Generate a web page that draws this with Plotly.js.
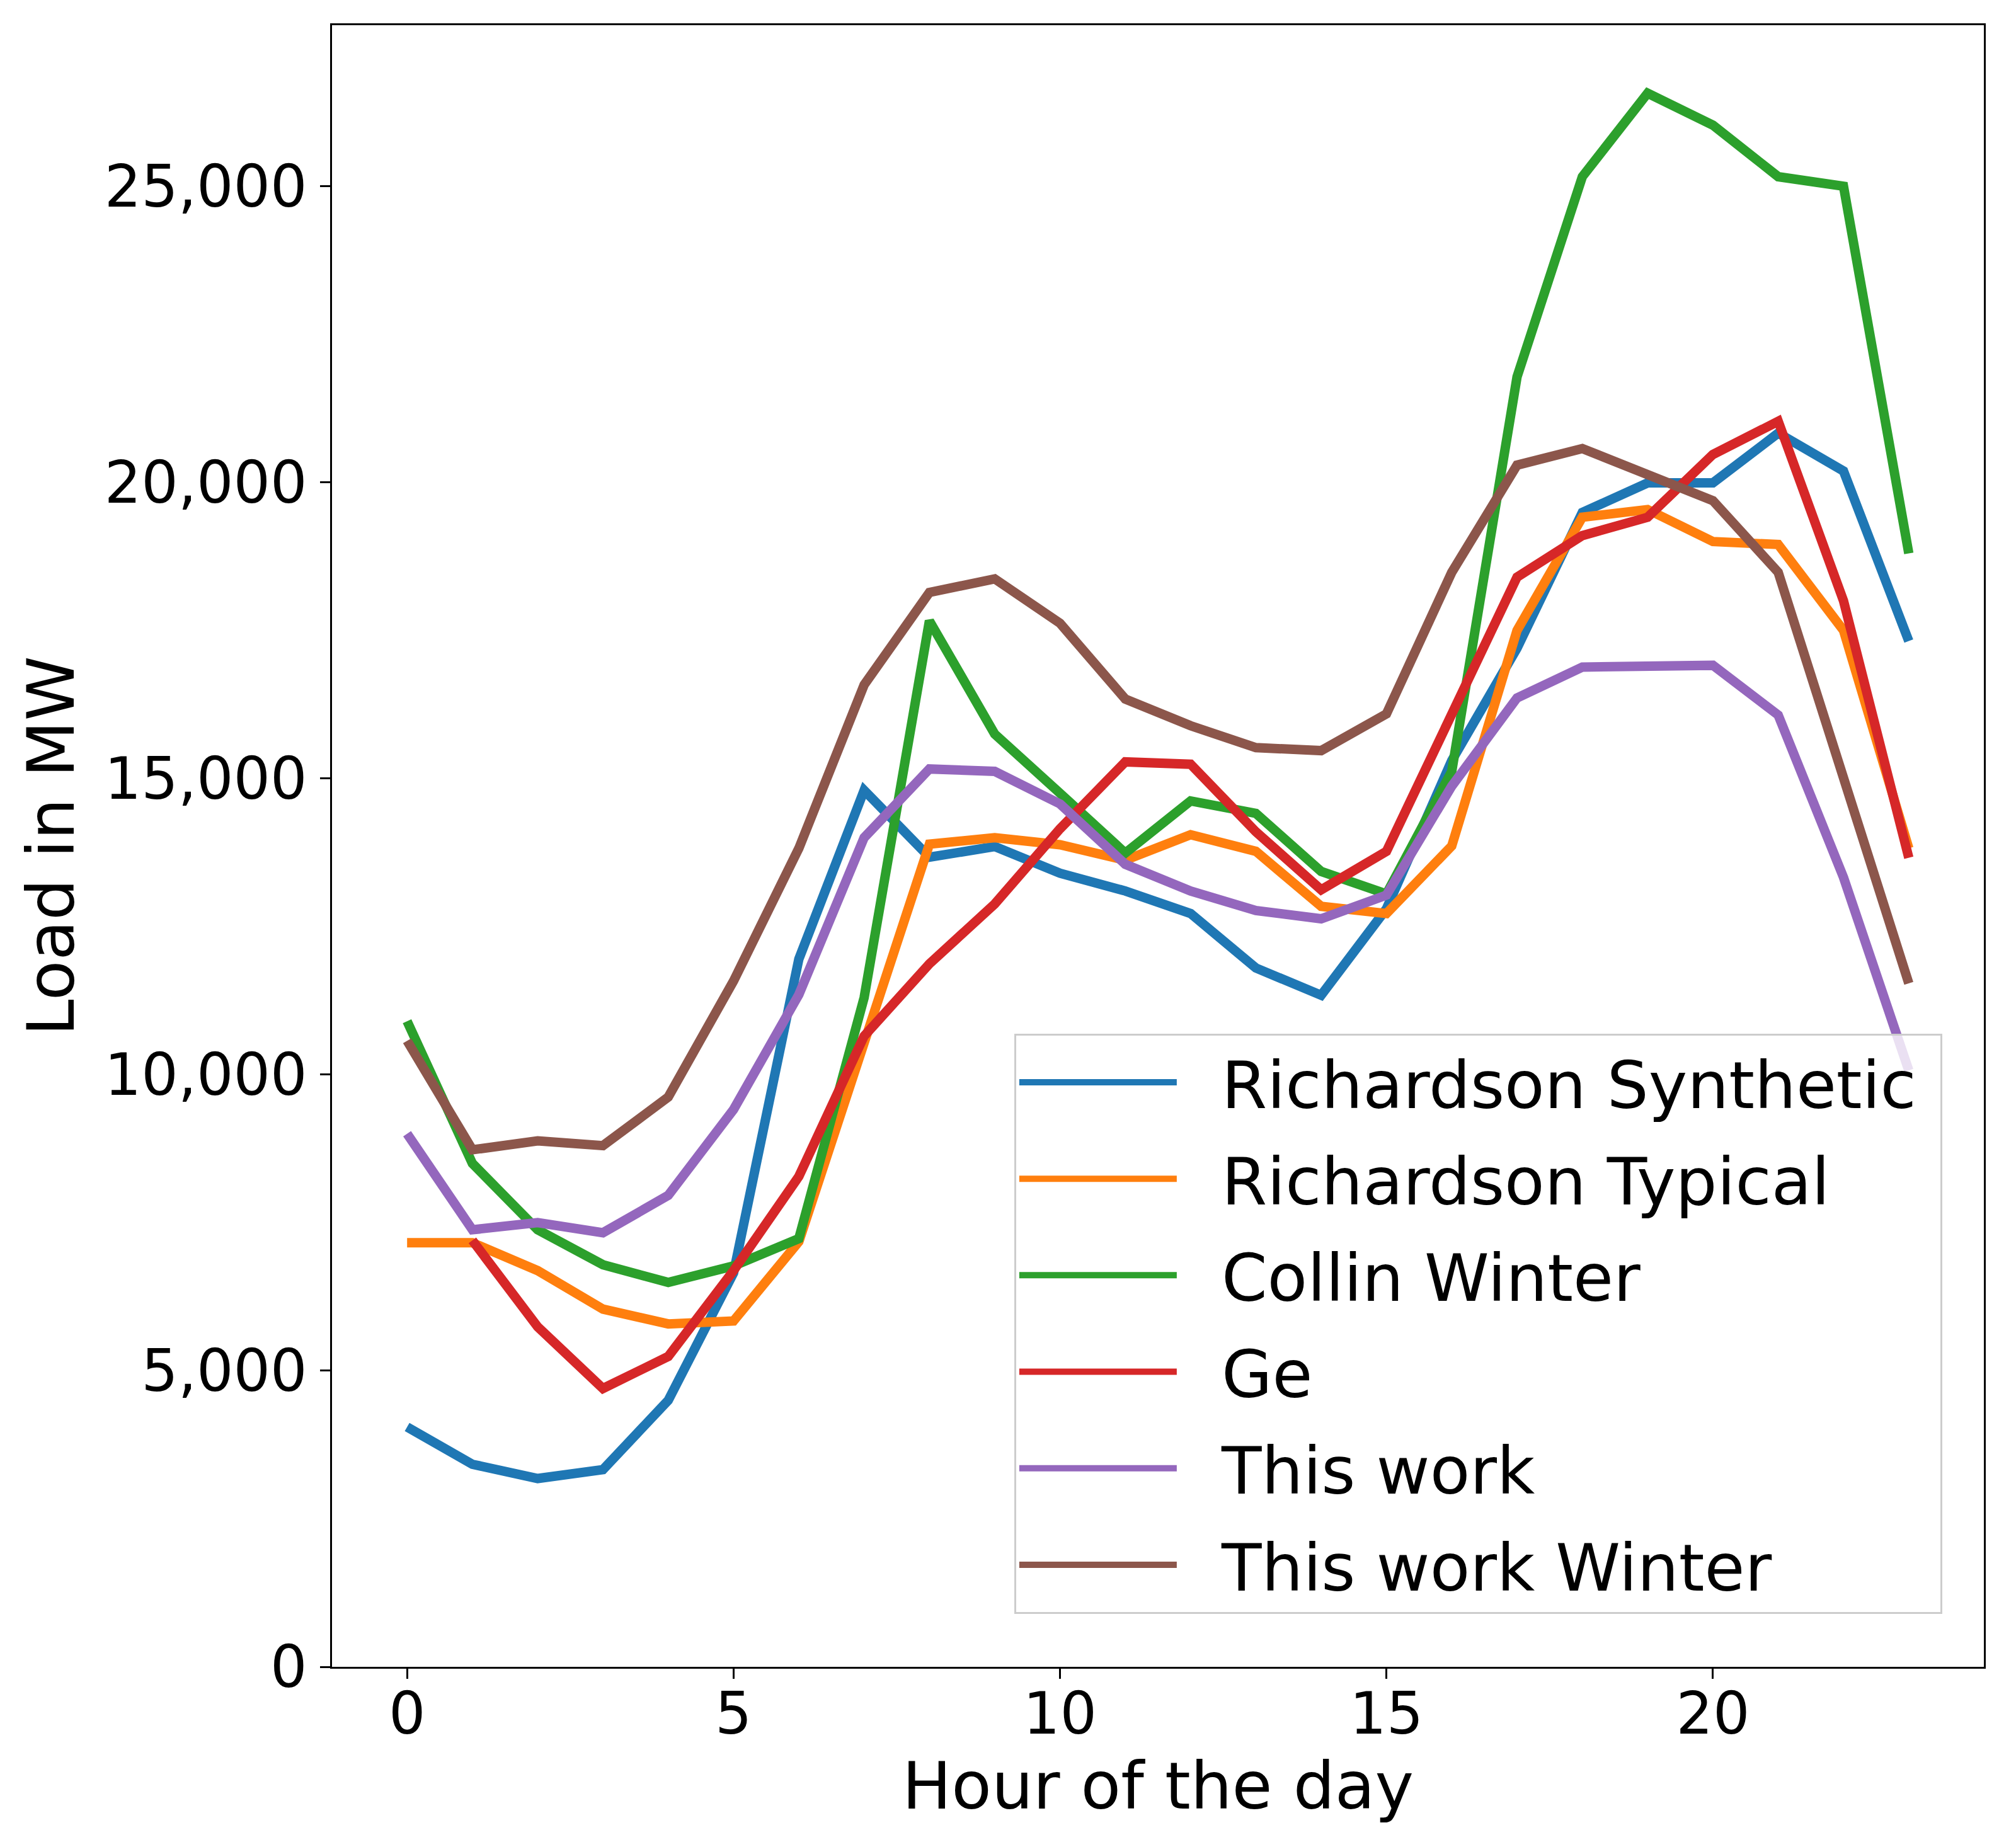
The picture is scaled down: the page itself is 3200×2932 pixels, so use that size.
<!DOCTYPE html>
<html>
<head>
<meta charset="utf-8">
<script src="https://cdn.plot.ly/plotly-3.0.1.min.js"></script>
<style>
html,body{margin:0;padding:0;background:#fff;}
#chart{width:3200px;height:2932px;}
</style>
</head>
<body>
<div id="chart"></div>
<script>
// Hour of the day
const hours = [0,1,2,3,4,5,6,7,8,9,10,11,12,13,14,15,16,17,18,19,20,21,22,23];
const hoursGe = [1,2,3,4,5,6,7,8,9,10,11,12,13,14,15,16,17,18,19,20,21,22,23];

// Load in MW
const richardsonSynthetic = [4050,3420,3180,3330,4500,6650,11950,14800,13670,13850,13400,13100,12720,11800,11340,12800,15300,17200,19490,19990,19990,20830,20190,17320];
const richardsonTypical   = [7160,7160,6690,6040,5790,5840,7180,10550,13890,14000,13880,13620,14050,13770,12840,12720,13860,17500,19410,19540,19000,18950,17500,13820];
const collinWinter        = [10900,8500,7380,6790,6490,6770,7230,11300,17660,15750,14750,13740,14620,14410,13430,13050,15120,21780,25160,26570,26030,25160,25000,18800];
const ge                  = [7200,5740,4700,5240,6690,8280,10650,11870,12880,14150,15280,15240,14100,13120,13770,16100,18400,19100,19410,20470,21030,18000,13660];
const thisWork            = [9000,7380,7500,7330,7960,9410,11350,14000,15160,15120,14570,13550,13100,12770,12630,13030,14870,16360,16880,16910,16910,16070,13330,10070];
const thisWorkWinter      = [10570,8730,8880,8800,9620,11580,13820,16580,18140,18370,17620,16340,15890,15520,15470,16090,18480,20290,20570,20140,19690,18480,15050,11540];

const seriesNames = ["Richardson Synthetic","Richardson Typical","Collin Winter","Ge","This work","This work Winter"];
const seriesColors = ["#1f77b4","#ff7f0e","#2ca02c","#d62728","#9467bd","#8c564b"];
const seriesX = [hours, hours, hours, hoursGe, hours, hours];
const seriesY = [richardsonSynthetic, richardsonTypical, collinWinter, ge, thisWork, thisWorkWinter];

const xTicks = [0,5,10,15,20];
const yTicks = [0,5000,10000,15000,20000,25000];

const FONT = "DejaVu Sans, Liberation Sans, sans-serif";
const GAP = "\u00a0\u00a0";

const traces = seriesNames.map((name, i) => ({
  type: "scatter",
  mode: "lines",
  name: GAP + name + "\u00a0",
  legendgroup: "g" + i,
  x: seriesX[i],
  y: seriesY[i],
  line: {color: seriesColors[i], width: 15},
  hoverinfo: "skip"
}));

const layout = {
  width: 3200,
  height: 2932,
  paper_bgcolor: "#ffffff",
  plot_bgcolor: "#ffffff",
  margin: {l: 527, r: 51, t: 40, b: 286, pad: 0},
  font: {family: FONT, color: "#000000", size: 92},
  showlegend: true,
  legend: {
    x: 0.413, y: 0.3857, xanchor: "left", yanchor: "top",
    bgcolor: "rgba(255,255,255,0.8)",
    bordercolor: "#cccccc", borderwidth: 3,
    font: {family: FONT, size: 104, color: "#000000"},
    itemwidth: 250,
    tracegroupgap: 15,
    traceorder: "grouped"
  },
  xaxis: {
    range: [-1.15, 24.15],
    tickvals: xTicks,
    ticktext: xTicks.map(String),
    showgrid: false, zeroline: false,
    showline: true, linecolor: "#000000", linewidth: 3, mirror: true,
    ticks: "outside", ticklen: 16, tickwidth: 3, tickcolor: "#000000",
    ticklabelstandoff: -23,
    tickfont: {family: FONT, size: 92, color: "#000000"},
    title: {text: "Hour of the day", font: {family: FONT, size: 104, color: "#000000"}, standoff: 20}
  },
  yaxis: {
    range: [0, 27718],
    tickvals: yTicks,
    tickformat: ",d",
    showgrid: false, zeroline: false,
    showline: true, linecolor: "#000000", linewidth: 3, mirror: true,
    ticks: "outside", ticklen: 16, tickwidth: 3, tickcolor: "#000000",
    ticklabelstandoff: 2,
    tickfont: {family: FONT, size: 92, color: "#000000"},
    title: {text: "Load in MW", font: {family: FONT, size: 104, color: "#000000"}, standoff: 14}
  }
};

Plotly.newPlot("chart", traces, layout, {displayModeBar: false, staticPlot: true});
</script>
</body>
</html>
